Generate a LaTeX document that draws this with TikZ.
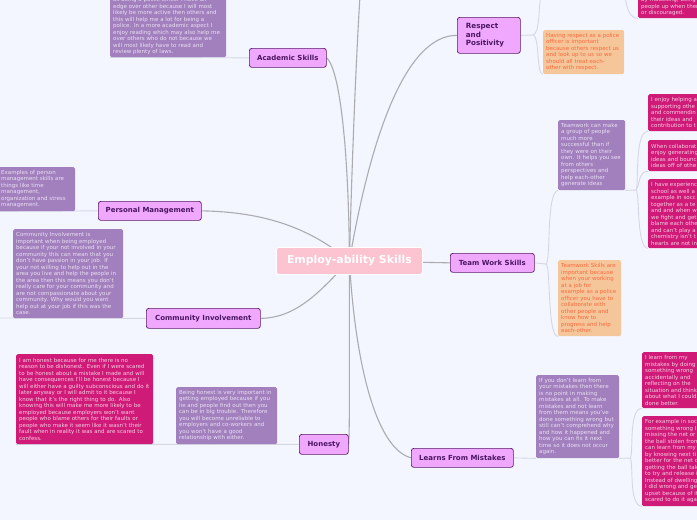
\documentclass[tikz,border=0pt]{standalone}
\usepackage{fontspec}
\usetikzlibrary{backgrounds}
\setmainfont{DejaVu Sans}
\definecolor{bgc}{HTML}{F3F6FF}
\definecolor{purp}{HTML}{A280BE}
\definecolor{purpt}{HTML}{EADFF2}
\definecolor{mag}{HTML}{CF1A78}
\definecolor{magt}{HTML}{F7CDE2}
\definecolor{ora}{HTML}{F6C69B}
\definecolor{orat}{HTML}{FA6A3C}
\definecolor{nodef}{HTML}{F0A8FF}
\definecolor{noded}{HTML}{5A1A66}
\definecolor{nodet}{HTML}{4B1560}
\definecolor{cenf}{HTML}{FCC3D1}
\definecolor{mainl}{HTML}{ACACB0}
\definecolor{subl}{HTML}{D5D8E4}
\tikzset{
  txtbox/.style={rounded corners=1.5pt,anchor=north west,inner xsep=3pt,inner ysep=0pt,align=left,
    font=\fontsize{5.5}{6.5}\selectfont},
  purplebox/.style={txtbox,fill=purp,text=purpt},
  magbox/.style={txtbox,fill=mag,text=magt},
  orabox/.style={txtbox,fill=ora,text=orat},
  topic/.style={draw=noded,line width=0.7pt,fill=nodef,text=nodet,rounded corners=2.5pt,inner sep=0pt,
    font=\fontsize{7}{8.4}\selectfont\bfseries,anchor=north west,align=left},
  mainlink/.style={draw=mainl,line width=1.1pt},
  sublink/.style={draw=subl,line width=0.9pt},
}
\newcommand{\tbox}[7]{%
  \pgfmathsetmacro\wdbox{#5-#3}\pgfmathsetmacro\htbox{#6-#4}%
  \node[#2,minimum width=\wdbox pt,minimum height=\htbox pt,text width=\wdbox pt-6pt] (#1) at (#3,#4) {#7};}
\newcommand{\tnode}[6]{%
  \pgfmathsetmacro\wdbox{#4-#2}\pgfmathsetmacro\htbox{#5-#3}%
  \node[topic,minimum width=\wdbox pt,minimum height=\htbox pt,align=center] (#1) at (#2,#3) {#6};}
\begin{document}
\begin{tikzpicture}[x=1pt,y=-1pt]
\useasboundingbox (0,0) rectangle (697,520);
\clip (0,0) rectangle (697,520);

% nodes
\node[draw=white,line width=0.8pt,fill=cenf,text=white,rounded corners=2.5pt,anchor=north west,inner sep=0pt,
  minimum width=146pt,minimum height=27pt,font=\fontsize{10.9}{12}\selectfont\bfseries] (cen) at (276,247) {Employ-ability Skills};

\tnode{acad}{249}{48}{326}{67}{Academic Skills}
\tnode{pers}{98}{201}{201}{220}{Personal Management}
\tnode{comm}{146}{308}{260}{328}{Community Involvement}
\tnode{hon}{299}{434}{348}{454}{Honesty}
\node[topic,minimum width=63pt,minimum height=36pt,inner xsep=8.5pt,text width=46pt,
  font=\fontsize{7.2}{8.4}\selectfont\bfseries] (resp) at (457,17) {Respect\\and\\Positivity};
\tnode{team}{450}{253}{534}{272}{Team Work Skills}
\tnode{learn}{411}{448}{513}{467}{Learns From Mistakes}

\tbox{acadt}{purplebox}{110}{-5}{226}{57}{as being a police officer I have an\\edge over other because I will most\\likely be more active then others and\\this will help me a lot for being a\\police. In a more academic aspect I\\enjoy reading which may also help me\\over others who do not because we\\will most likely have to read and\\review plenty of laws.}
\tbox{perst}{purplebox}{-2}{167}{75}{211}{Examples of person\\management skills are\\things like time\\management,\\organization and stress\\management.}
\tbox{commt}{purplebox}{13}{229}{123}{318}{Community Involvement is\\important when being employed\\because if your not involved in your\\community this can mean that you\\don't have passion in your job. If\\your not willing to help out in the\\area you live and help the people in\\the area then this means you don't\\really care for your community and\\are not compassionate about your\\community. Why would you want\\help out at your job if this was the\\case.}
\tbox{hont}{magbox}{16}{354}{153}{444}{I am honest because for me there is no\\reason to be dishonest. Even if I were scared\\to be honest about a mistake I made and will\\have consequences I'll be honest because I\\will either have a guilty subconscious and do it\\later anyway or I will admit to it because I\\know that it's the right thing to do. Also\\knowing this will make me more likely to be\\employed because employers won't want\\people who blame others for their faults or\\people who make it seem like it wasn't their\\fault when in reality it was and are scared to\\confess.}
\tbox{hontb}{purplebox}{176}{387}{277}{444}{Being honest is very important in\\getting employed because if you\\lie and people find out then you\\can be in big trouble. Therefore\\you will become unreliable to\\employers and co-workers and\\you won't have a good\\relationship with either.}
\tbox{respt}{orabox}{543}{30}{624}{74}{Having respect as a police\\officer is important\\because others respect us\\and look up to us so we\\should all treat each-\\other with respect.}
\tbox{respm}{magbox}{638}{-5}{720}{18}{by modelling, being p\\people up when ther\\or discouraged.}
\tbox{teamt}{purplebox}{558}{120}{625}{190}{Teamwork can make\\a group of people\\much more\\successful than if\\they were on their\\own. It helps you see\\from others\\perspectives and\\help each-other\\generate ideas}
\tbox{teamo}{orabox}{558}{260}{621}{336}{Teamwork Skills are\\important because\\when your working\\at a job for\\example as a police\\officer you have to\\collaborate with\\other people and\\know how to\\progress and help\\each-other.}
\tbox{teama}{magbox}{648}{94}{740}{131}{I enjoy helping a\\supporting othe\\and commendin\\their ideas and\\contribution to t}
\tbox{teamb}{magbox}{648}{140}{740}{171}{When collaborat\\enjoy generating\\ideas and bounc\\ideas off of othe}
\tbox{teamc}{magbox}{648}{179}{740}{248}{I have experienc\\school as well a\\example in socc\\together as a te\\and and when w\\we fight and get\\blame each othe\\and can't play a\\chemistry isn't t\\hearts are not in}
\tbox{learnt}{purplebox}{536}{375}{619}{458}{If you don't learn from\\your mistakes then there\\is no point in making\\mistakes at all. To make\\mistakes and not learn\\from them means you've\\done something wrong but\\still can't comprehend why\\and how it happened and\\how you can fix it next\\time so it does not occur\\again.}
\tbox{learna}{magbox}{642}{352}{740}{408}{I learn from my\\mistakes by doing\\something wrong\\accidentally and\\reflecting on the\\situation and think\\about what I could\\done better.}
\tbox{learnb}{magbox}{642}{416}{740}{506}{For example in soc\\something wrong I\\missing the net or\\the ball stolen from\\can learn from my\\by knowing next ti\\better for the net o\\getting the ball tak\\to try and release i\\Instead of dwelling\\I did wrong and ge\\upset because of it\\scared to do it aga}

% free ends of connectors
\coordinate (topend) at (360,-4);
\coordinate (respup) at (541,-4);
\coordinate (mfork) at (625,-4);
\coordinate (rfork) at (533,35);
\coordinate (tfork) at (546,264);
\coordinate (pfork) at (636,190);
\coordinate (lfork) at (630,458);
\coordinate (commend) at (-4,318);

\begin{scope}[on background layer]
\clip (0,0) rectangle (697,520);
\fill[bgc] (0,0) rectangle (697,520);
\draw[mainlink] (cen.center) .. controls (352,160) and (356,60) .. (topend);
\draw[mainlink] (acad.east) .. controls (342,72) and (349,170) .. (cen.center);
\draw[mainlink] (pers.east) .. controls (265,212) and (310,228) .. (cen.center);
\draw[mainlink] (comm.east) .. controls (300,318) and (325,285) .. (cen.center);
\draw[mainlink] (hon.east) .. controls (350,420) and (349,350) .. (cen.center);
\draw[mainlink] (resp.west) .. controls (405,35) and (370,140) .. (cen.center);
\draw[mainlink] (learn.west) .. controls (375,448) and (355,360) .. (cen.center);
\draw[mainlink] (cen.center) -- (team.west);
\draw[sublink] (acad.west) -- (acadt.south west);
\draw[sublink] (pers.west) -- (perst.south west);
\draw[sublink] (comm.west) -- (commend);
\draw[sublink] (hon.west) -- (hont.south west);
\draw[sublink] (resp.east) -- (rfork);
\draw[sublink] (rfork) .. controls (540,33) and (538,10) .. (respup);
\draw[sublink] (rfork) .. controls (540,37) and (536,74) .. (respt.south west);
\draw[sublink] (mfork) .. controls (627,10) and (630,18) .. (respm.south west);
\draw[sublink] (team.east) -- (tfork);
\draw[sublink] (tfork) .. controls (551,262) and (546,192) .. (teamt.south west);
\draw[sublink] (tfork) .. controls (551,266) and (547,336) .. (teamo.south west);
\draw[sublink] (teamt.south east) -- (pfork);
\draw[sublink] (pfork) .. controls (639,188) and (634,131) .. (teama.south west);
\draw[sublink] (pfork) .. controls (640,186) and (638,171) .. (teamb.south west);
\draw[sublink] (pfork) .. controls (640,192) and (636,248) .. (teamc.south west);
\draw[sublink] (learn.east) -- (learnt.south west);
\draw[sublink] (learnt.south east) -- (lfork);
\draw[sublink] (lfork) .. controls (634,456) and (628,408) .. (learna.south west);
\draw[sublink] (lfork) .. controls (634,460) and (628,506) .. (learnb.south west);
\end{scope}
\end{tikzpicture}
\end{document}
